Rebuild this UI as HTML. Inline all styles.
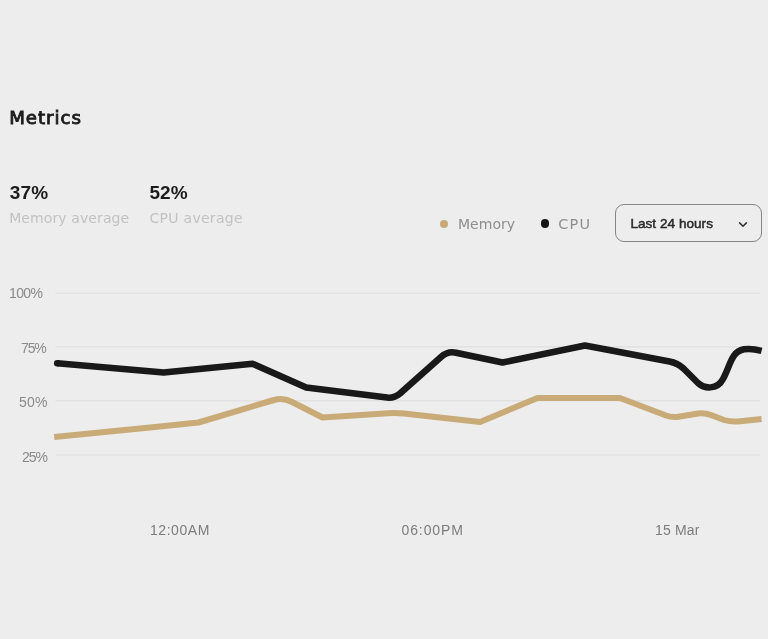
<!DOCTYPE html>
<html><head><meta charset="utf-8">
<style>
html,body{margin:0;padding:0;}
body{width:768px;height:639px;background:#ededed;position:relative;overflow:hidden;font-family:"Liberation Sans",sans-serif;}
.t{position:absolute;white-space:nowrap;line-height:1;}
.h{font-family:"DejaVu Sans","Liberation Sans",sans-serif;font-size:18.2px;color:#1c1c1c;-webkit-text-stroke:0.9px #1c1c1c;left:9.2px;top:108.8px;letter-spacing:0.95px}
.n{font-size:19px;font-weight:bold;color:#1c1c1c;letter-spacing:0.1px}
.s{font-family:"DejaVu Sans","Liberation Sans",sans-serif;font-size:14px;color:#c2c2c2;}
.lg{font-family:"DejaVu Sans","Liberation Sans",sans-serif;font-size:13.5px;color:#8e8e8e;}
.ax{font-size:14px;color:#8a8a8a;}
.xl{font-size:14px;color:#7c7c7c;}
.sel{position:absolute;left:615px;top:204px;width:147px;height:38px;border:1.5px solid #858585;border-radius:9px;box-sizing:border-box;}
.dot{position:absolute;width:8px;height:8px;border-radius:50%;}
svg{position:absolute;left:0;top:0}
</style></head><body>
<div class="t h">Metrics</div>
<div class="t n" style="left:9.8px;top:183.3px">37%</div>
<div class="t n" style="left:149.4px;top:183.3px">52%</div>
<div class="t s" style="left:9.2px;top:211.4px;letter-spacing:0.1px">Memory average</div>
<div class="t s" style="left:149.5px;top:211.4px;letter-spacing:0.28px">CPU average</div>
<div class="dot" style="left:440.2px;top:219.5px;background:#c9a874"></div>
<div class="t lg" style="left:458px;top:216.7px;font-size:14px;letter-spacing:0.02px">Memory</div>
<div class="dot" style="left:540.8px;top:219.3px;width:8.5px;height:8.5px;background:#151515"></div>
<div class="t lg" style="left:558.2px;top:216.5px;font-size:14.4px;letter-spacing:1.3px">CPU</div>
<div class="sel"></div>
<div class="t" style="left:630.4px;top:216.5px;letter-spacing:0.06px;font-size:13.5px;color:#2a2a2a;-webkit-text-stroke:0.5px #2a2a2a">Last 24 hours</div>
<svg width="768" height="639" viewBox="0 0 768 639">
<path d="M739.6 222.9 L743 226.3 L746.4 222.9" fill="none" stroke="#333" stroke-width="1.5" stroke-linecap="round" stroke-linejoin="round"/>
<g stroke="#e1e1e1" stroke-width="1.6">
<line x1="55.5" x2="760" y1="293.2" y2="293.2"/>
<line x1="55.5" x2="760" y1="346.8" y2="346.8"/>
<line x1="55.5" x2="760" y1="400.7" y2="400.7"/>
<line x1="55.5" x2="760" y1="455" y2="455"/>
</g>
<path d="M54.2 437.1 L150 427.6 L198.5 422.5 L274 400 Q283 397.3 292 402 L322.5 417.5 L388 413.2 Q396 412.6 404 413.5 L480 422 L537.5 398 L620 398 L666 415.5 Q672.5 418 680 416.5 L698 413.5 Q704.5 412.5 711 415 L724 420 Q730.5 422 738 421.5 L761.6 419" fill="none" stroke="#c9ab78" stroke-width="6" stroke-linejoin="round" stroke-linecap="butt"/>
<path d="M57.2 363.3 L163.7 372.5 L252.5 363.7 L306.2 387.5 L385 397.3 Q393.5 399 400 393.5 L441 357 Q447.5 351 456 352.7 L502.5 362.5 L585 345.5 L669.5 361.5 Q677.5 363 683.5 368.5 L698 383 C704 388.5 717 390.5 723 379 C731 364 731 352 744 349.3 Q751 348 761.6 350.8" fill="none" stroke="#191919" stroke-width="6.5" stroke-linejoin="round" stroke-linecap="butt"/>
<circle cx="57.2" cy="363.3" r="3.25" fill="#191919"/>
</svg>
<div class="t ax" style="left:9px;top:286px;letter-spacing:-0.6px">100%</div>
<div class="t ax" style="left:21px;top:340.5px;letter-spacing:-1.1px">75%</div>
<div class="t ax" style="left:19px;top:395px;letter-spacing:0.2px">50%</div>
<div class="t ax" style="left:22px;top:450px;letter-spacing:-1px">25%</div>
<div class="t xl" style="left:150px;top:523px;letter-spacing:0.55px">12:00AM</div>
<div class="t xl" style="left:401.5px;top:523px;letter-spacing:0.9px">06:00PM</div>
<div class="t xl" style="left:655px;top:523px;letter-spacing:0.15px">15 Mar</div>
</body></html>
